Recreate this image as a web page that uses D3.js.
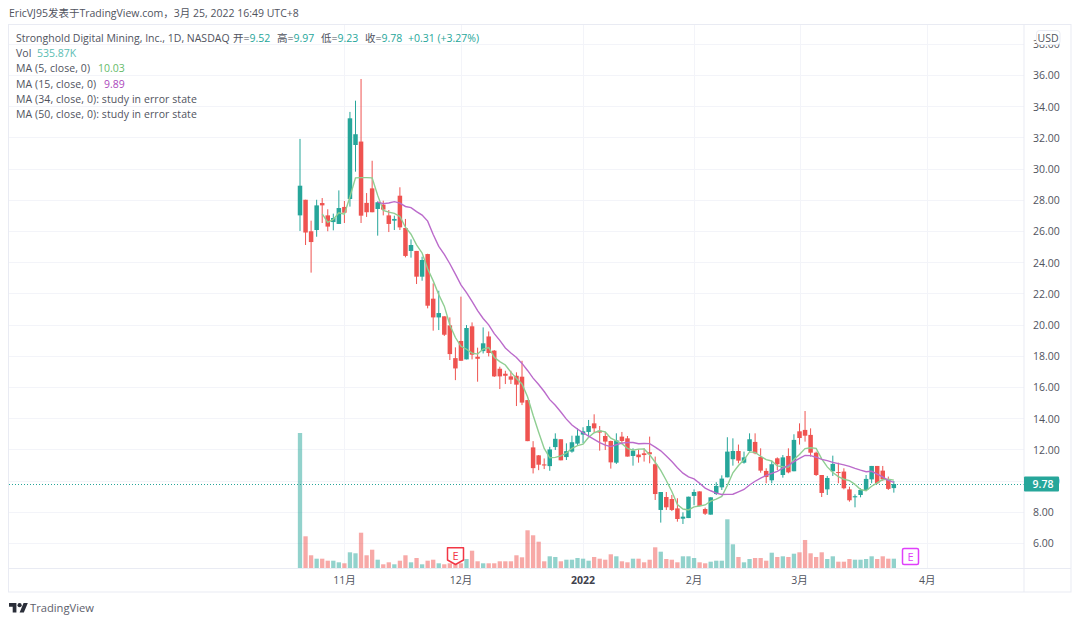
<!DOCTYPE html>
<html lang="zh">
<head>
<meta charset="utf-8">
<title>Stronghold Digital Mining, Inc. 1D</title>
<script src="https://cdn.jsdelivr.net/npm/d3@7"></script>
<style>
  html, body { margin: 0; padding: 0; background: #fff; }
  svg { display: block; }
  text { font-family: "Open Sans", "Noto Sans CJK SC", sans-serif; }
</style>
</head>
<body>
<svg id="chart" width="1080" height="624"></svg>
<script>
// Daily sessions, counted from the listing on 20 Oct 2021.
const opens = [27.0,28.0,25.98,26.06,27.79,27.0,26.57,26.45,27.54,28.05,
  31.51,31.73,27.8,28.73,27.41,27.69,27.0,26.66,28.26,26.19,
  24.72,24.72,23.07,24.52,21.66,20.46,20.53,19.95,17.85,18.95,
  17.77,19.89,17.94,18.3,19.24,18.33,17.17,16.85,16.68,16.72,
  16.66,15.16,12.13,11.62,11.04,10.93,12.15,12.65,11.51,11.86,
  12.37,12.95,13.12,13.67,13.2,12.86,12.54,11.15,12.82,12.71,
  11.58,11.67,11.75,11.82,11.05,8.12,8.95,8.82,8.22,7.56,
  7.6,9.02,9.31,8.18,7.82,9.14,9.57,10.21,11.37,11.9,
  11.15,11.9,12.48,11.52,10.62,10.02,11.43,10.36,11.58,10.6,
  13.16,13.25,12.93,11.79,10.36,9.44,10.6,10.55,10.58,9.44,
  8.93,9.08,9.4,10.08,10.94,10.64,10.08,9.52];
const highs = [31.9,28.0,26.66,28.0,28.11,27.39,27.11,28.6,27.92,33.63,
  34.35,35.74,28.43,30.5,27.9,27.94,27.34,26.98,28.8,26.77,
  25.46,24.72,24.35,24.54,22.64,22.17,20.53,20.46,18.54,21.79,
  19.97,20.14,18.52,19.82,19.56,18.37,17.3,17.04,17.04,16.94,
  17.68,15.16,12.53,11.64,11.42,12.17,13.03,12.65,12.39,12.88,
  13.35,13.42,13.89,14.25,13.5,13.12,12.56,13.03,13.12,12.86,
  12.07,12.0,12.07,12.82,11.54,9.27,9.27,9.08,8.87,7.97,
  8.97,9.44,9.31,8.27,8.93,9.9,10.34,12.78,12.71,12.31,
  11.86,13.03,13.03,12.07,10.79,11.26,11.49,11.64,12.07,12.97,
  13.67,14.46,13.35,11.86,10.36,10.3,11.6,11.15,10.79,9.61,
  9.12,9.51,10.36,10.94,10.94,10.94,10.26,9.97];
const lows = [26.0,25.1,23.33,25.63,26.51,25.98,26.04,26.45,26.51,27.56,
  29.8,26.51,26.9,27.2,25.7,27.0,25.93,26.06,26.06,24.31,
  24.29,22.6,22.81,21.04,19.61,19.65,19.27,17.73,16.44,17.68,
  17.77,17.77,16.34,18.15,17.96,16.64,15.87,16.19,16.19,14.78,
  14.84,12.53,10.46,10.67,10.74,10.63,11.96,11.3,11.32,11.79,
  12.29,12.39,12.82,13.1,11.92,11.96,10.77,11.07,12.33,11.54,
  10.96,11.15,11.22,11.11,8.76,7.31,8.12,8.05,7.37,7.22,
  7.6,8.42,8.37,7.8,7.82,9.08,9.4,10.21,10.96,11.11,
  11.09,11.86,11.69,10.51,9.83,9.83,10.68,10.19,10.47,10.6,
  12.31,12.5,11.54,10.3,8.95,9.08,10.3,9.83,9.44,8.65,
  8.29,8.93,9.36,9.83,9.78,9.98,9.4,9.23];
const closes = [28.9,25.9,25.29,27.64,27.64,26.28,26.83,27.47,27.17,33.22,
  32.2,26.98,27.2,27.2,27.84,27.37,26.45,26.77,26.23,24.4,
  25.1,23.07,24.14,21.21,20.46,20.74,19.35,18.11,17.19,17.68,
  19.78,18.07,17.81,18.8,18.18,16.68,16.68,16.72,16.47,16.15,
  15.0,12.53,10.8,11.02,10.97,12.0,12.68,11.3,11.89,12.46,
  12.88,13.16,13.5,13.35,13.08,12.5,11.17,12.58,12.54,11.54,
  11.92,11.5,11.64,11.69,9.14,9.27,8.29,8.12,7.54,7.69,
  8.97,9.27,8.37,7.88,8.93,9.66,10.13,11.86,11.9,11.28,
  11.49,12.65,11.75,10.64,10.23,11.05,11.05,11.49,10.53,12.61,
  12.73,12.88,11.79,10.36,9.21,10.17,11.07,10.49,9.51,8.74,
  9.0,9.4,10.11,10.94,9.83,10.08,9.47,9.78];
// Share volume per session, in thousands.
const volumes = [7776,1826,732,536,536,420,420,328,271,904,
  847,2033,732,1054,478,213,328,213,420,732,
  328,576,213,420,478,271,213,271,213,271,
  518,996,386,271,271,271,386,386,386,732,
  616,2172,1884,1515,386,674,634,386,478,478,
  576,536,420,634,536,478,789,674,386,328,
  536,536,328,478,1192,939,518,478,328,674,
  674,576,328,271,363,420,420,2805,1365,634,
  328,518,576,576,420,881,634,674,634,824,
  904,1613,847,634,904,518,674,363,363,518,
  478,478,518,674,518,674,536,536];
// Moving averages as plotted; each one starts once its window is filled.
const ma5Start = 4;
const ma5 = [27.09,26.55,26.74,27.17,27.08,28.19,29.4,29.42,29.42,29.4,
  28.28,27.32,27.21,27.13,26.93,26.24,25.79,25.11,24.59,23.58,
  22.8,21.92,21.18,19.97,19.17,18.61,18.42,18.17,18.11,18.43,
  18.53,17.91,17.63,17.41,16.95,16.54,16.2,15.37,14.19,13.1,
  12.06,11.46,11.49,11.59,11.77,12.07,12.24,12.34,12.78,13.07,
  13.19,13.12,12.72,12.54,12.37,12.07,11.95,12.02,12.03,11.66,
  11.18,10.65,10.01,9.3,8.47,8.18,8.12,8.32,8.37,8.44,
  8.68,8.82,8.99,9.69,10.5,10.97,11.33,11.84,11.81,11.56,
  11.35,11.26,10.94,10.89,10.87,11.35,11.68,12.05,12.11,12.07,
  11.39,10.88,10.52,10.26,10.09,10.0,9.76,9.43,9.35,9.64,
  9.86,10.07,10.09,10.03];
const ma15Start = 14;
const ma15 = [27.85,27.75,27.79,27.88,27.79,27.57,27.5,27.24,27.02,26.63,
  25.77,25.01,24.5,23.9,23.23,22.55,22.05,21.49,20.89,20.39,
  19.98,19.42,18.99,18.5,18.18,17.89,17.51,17.06,16.57,16.16,
  15.71,15.19,14.83,14.4,13.94,13.56,13.3,13.07,12.85,12.65,
  12.44,12.27,12.18,12.3,12.4,12.44,12.44,12.36,12.38,12.37,
  12.15,11.91,11.58,11.22,10.83,10.48,10.24,10.11,9.83,9.52,
  9.35,9.2,9.11,9.12,9.13,9.28,9.43,9.72,9.96,10.16,
  10.33,10.47,10.59,10.8,10.98,11.22,11.43,11.61,11.6,11.5,
  11.36,11.28,11.17,11.09,11.01,10.91,10.78,10.67,10.57,10.6,
  10.42,10.24,10.01,9.89];

// Axis labels: session index of each month start, price levels every 2.00.
const monthSessions = [8, 29, 51, 71, 90, 113];
const monthLabels = ["11月", "12月", "2022", "2月", "3月", "4月"];
const priceTicks = [6,8,10,12,14,16,18,20,22,24,26,28,30,32,34,36,38];

const headerText = "EricVJ95发表于TradingView.com，3月 25, 2022 16:49 UTC+8";
const ohlcLabels = ["开", "高", "低", "收"];
const lastPrice = 9.78;
const lastChange = "+0.31 (+3.27%)";

const UP = "#26a69a", DOWN = "#ef5350", GRID = "#f3f4f9", FRAME = "#e9ebf3";
const TEXT = "#50535e", MA5C = "#8fce92", MA15C = "#bb6bcb";

const plot = { left: 9, right: 1024, top: 25, bottom: 568 };
const frameEdge = { right: 1071, bottom: 592 };

const svg = d3.select("#chart");
const x = d3.scaleLinear().domain([0, 107]).range([300, 893.85]);
const y = d3.scaleLinear().domain([4.4, 39.2]).range([plot.bottom, plot.top]);
const vol = d3.scaleLinear().domain([0, d3.max(volumes)]).range([plot.bottom, plot.bottom - 135]);
const isUp = i => closes[i] >= opens[i];
const hue = i => isUp(i) ? UP : DOWN;
const sessions = d3.range(closes.length);
const bodyW = 4.5, volW = 4.3;

// Gridlines sit under everything else.
const grid = svg.append("g");
grid.selectAll("line.h").data(priceTicks.filter(t => y(t) > plot.top)).join("line")
  .attr("x1", plot.left).attr("x2", plot.right)
  .attr("y1", d => Math.round(y(d)) + .5).attr("y2", d => Math.round(y(d)) + .5)
  .attr("stroke", GRID);
grid.selectAll("line.v").data(monthSessions).join("line")
  .attr("y1", plot.top).attr("y2", plot.bottom)
  .attr("x1", d => Math.round(x(d)) + .5).attr("x2", d => Math.round(x(d)) + .5)
  .attr("stroke", GRID);

// Volume histogram along the bottom of the pane.
svg.append("g").selectAll("rect").data(sessions).join("rect")
  .attr("x", i => x(i) - volW / 2).attr("width", volW)
  .attr("y", i => vol(volumes[i])).attr("height", i => plot.bottom - vol(volumes[i]))
  .attr("fill", hue).attr("fill-opacity", .5);

// Last price guide.
svg.append("line")
  .attr("x1", plot.left).attr("x2", plot.right)
  .attr("y1", Math.round(y(lastPrice)) + .5).attr("y2", Math.round(y(lastPrice)) + .5)
  .attr("stroke", UP).attr("stroke-dasharray", "1 2");

// Candles: wick first, body on top.
const candles = svg.append("g");
candles.selectAll("line").data(sessions).join("line")
  .attr("x1", x).attr("x2", x)
  .attr("y1", i => y(highs[i])).attr("y2", i => y(lows[i]))
  .attr("stroke", hue).attr("stroke-width", 1);
candles.selectAll("rect").data(sessions).join("rect")
  .attr("x", i => x(i) - bodyW / 2).attr("width", bodyW)
  .attr("y", i => y(Math.max(opens[i], closes[i])))
  .attr("height", i => Math.max(1, Math.abs(y(opens[i]) - y(closes[i]))))
  .attr("fill", hue);

// Moving averages.
const maLine = start => d3.line().x((d, k) => x(start + k)).y(d => y(d));
svg.append("path").attr("d", maLine(ma5Start)(ma5))
  .attr("fill", "none").attr("stroke", MA5C).attr("stroke-width", 1.4);
svg.append("path").attr("d", maLine(ma15Start)(ma15))
  .attr("fill", "none").attr("stroke", MA15C).attr("stroke-width", 1.4);

// Earnings flags.
const earnRed = svg.append("g").attr("transform", "translate(455.5,0)");
earnRed.append("path").attr("d", "M-8 547.8 H8 V560 L0 564.5 L-8 560 Z")
  .attr("fill", "#fff").attr("stroke", "#f23645").attr("stroke-width", 1.5).attr("stroke-linejoin", "round");
earnRed.append("text").attr("y", 559.5).attr("text-anchor", "middle")
  .attr("font-size", 11).attr("fill", "#f23645").text("E");
const earnPink = svg.append("g").attr("transform", "translate(910.5,0)");
earnPink.append("rect").attr("x", -8).attr("y", 548.5).attr("width", 16).attr("height", 16).attr("rx", 1.5)
  .attr("fill", "#fff").attr("stroke", "#e040fb").attr("stroke-width", 1.5);
earnPink.append("text").attr("y", 560.5).attr("text-anchor", "middle")
  .attr("font-size", 11).attr("fill", "#e040fb").text("E");

// Frame around chart pane and scales.
const frame = svg.append("g").attr("fill", "none").attr("stroke", FRAME);
frame.append("rect").attr("x", 8.5).attr("y", 24.5)
  .attr("width", frameEdge.right - 8.5).attr("height", frameEdge.bottom - 24.5);
frame.append("line").attr("x1", plot.right).attr("x2", plot.right).attr("y1", 24.5).attr("y2", frameEdge.bottom);
frame.append("line").attr("x1", 8.5).attr("x2", frameEdge.right).attr("y1", plot.bottom + .5).attr("y2", plot.bottom + .5);

// Price scale.
const priceAxis = d3.axisRight(y).tickValues(priceTicks).tickSize(0).tickPadding(0)
  .tickFormat(d3.format(".2f"));
const gPrice = svg.append("g").attr("transform", `translate(1033,0.5)`).call(priceAxis);
gPrice.select(".domain").remove();
gPrice.selectAll("text").attr("x", 0).attr("font-size", 10.5).attr("fill", TEXT)
  .style("font-family", '"Open Sans", sans-serif');

// Time scale; the year label is set heavier than the months.
const timeAxis = d3.axisBottom(x).tickValues(monthSessions).tickSize(0).tickPadding(0)
  .tickFormat((d, k) => monthLabels[k]);
const gTime = svg.append("g").attr("transform", `translate(-0.5,577)`).call(timeAxis);
gTime.select(".domain").remove();
gTime.selectAll("text").attr("y", 0).attr("font-size", 10.5)
  .attr("fill", d => d === 51 ? "#3f424d" : TEXT)
  .style("font-family", '"Open Sans", "Noto Sans CJK SC", sans-serif')
  .attr("font-weight", d => d === 51 ? 700 : 400);

// Current price tag and currency button above the scale.
svg.append("rect").attr("x", plot.right).attr("y", y(lastPrice) - 7.5).attr("width", 35).attr("height", 15)
  .attr("rx", 1).attr("fill", UP);
svg.append("text").attr("x", 1043).attr("y", y(lastPrice) + 4).attr("text-anchor", "middle")
  .attr("font-size", 10.5).attr("font-weight", 600).attr("fill", "#fff").text(d3.format(".2f")(lastPrice));
svg.append("rect").attr("x", 1036.5).attr("y", 30.5).attr("width", 23.5).attr("height", 14).attr("rx", 3)
  .attr("fill", "#fff").attr("stroke", "#e9ebf3");
svg.append("text").attr("x", 1048).attr("y", 41.5).attr("text-anchor", "middle")
  .attr("font-size", 10.5).attr("fill", TEXT).text("USD");

// Header and legend block.
svg.append("text").attr("x", 9).attr("y", 17).attr("font-size", 10.5).attr("fill", TEXT).text(headerText);

const legend = svg.append("g").attr("font-size", 10.5).attr("fill", TEXT);
const row1 = legend.append("text").attr("x", 16).attr("y", 42);
row1.append("tspan").text("Stronghold Digital Mining, Inc., 1D, NASDAQ");
const ohlcValues = [opens[107], highs[107], lows[107], closes[107]];
const ohlcX = [233, 277, 321, 365];
ohlcLabels.forEach((lab, k) => {
  row1.append("tspan").attr("x", ohlcX[k]).text(`${lab}=`);
  row1.append("tspan").attr("fill", UP).text(d3.format(".2f")(ohlcValues[k]));
});
row1.append("tspan").attr("x", 408).attr("fill", UP).text(lastChange);

// label, value, value colour, value column, baseline
const rows = [
  ["Vol", "535.87K", "#5cbdb3", 37, 57],
  ["MA (5, close, 0)", d3.format(".2f")(ma5[ma5.length - 1]), "#66bb6a", 98, 72],
  ["MA (15, close, 0)", d3.format(".2f")(ma15[ma15.length - 1]), "#ab47bc", 104, 88],
  ["MA (34, close, 0): study in error state", "", TEXT, 0, 103],
  ["MA (50, close, 0): study in error state", "", TEXT, 0, 118]
];
rows.forEach(([lab, val, col, vx, yy]) => {
  const t = legend.append("text").attr("x", 16).attr("y", yy).attr("letter-spacing", ".08").text(lab);
  if (val) legend.append("text").attr("x", vx).attr("y", yy).attr("fill", col).text(val);
});

// Wordmark in the bottom corner.
const mark = svg.append("g").attr("transform", "translate(9,600.9) scale(.53)").attr("fill", "#2a2e39");
mark.append("path").attr("d", "M14 22H7V11H0V4h14v18zM28 22h-8l7.5-18h8L28 22z");
mark.append("circle").attr("cx", 20).attr("cy", 8).attr("r", 4);
svg.append("text").attr("x", 30).attr("y", 612).attr("font-size", 11.2).attr("fill", "#5d606b").text("TradingView");
</script>
</body>
</html>
